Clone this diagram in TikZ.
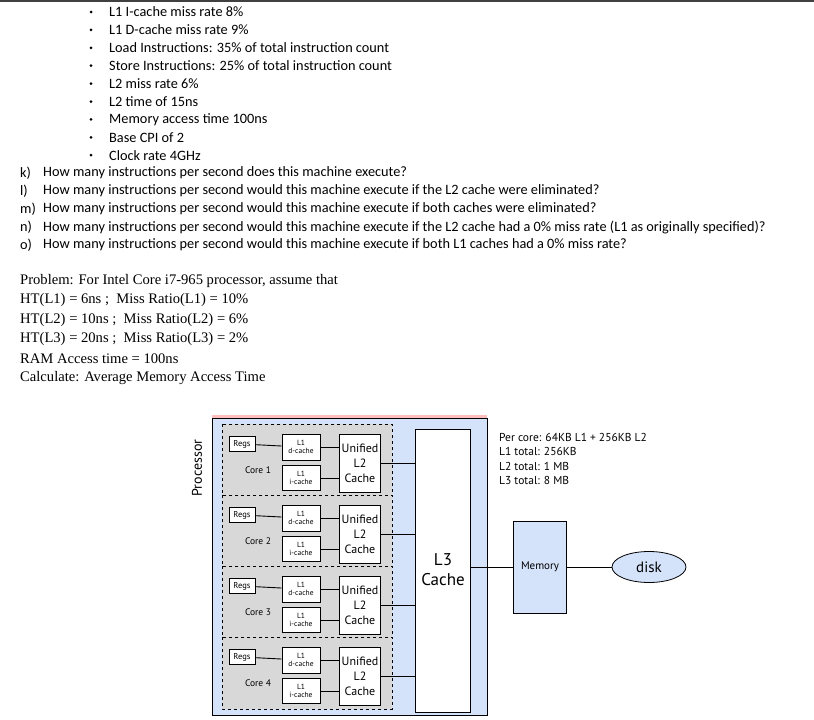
\documentclass[tikz,border=0pt]{standalone}
\usepackage{fontspec}
\setmainfont{Liberation Serif}
\newfontfamily\calfont{Carlito}
\newfontfamily\diafont{PT Sans}
\usepackage{tikz}
\usetikzlibrary{calc, shapes.geometric}
\definecolor{procblue}{RGB}{212,226,250}
\definecolor{coregray}{RGB}{216,216,216}
\tikzset{
  box/.style={draw, fill=white, line width=0.8pt, inner sep=0pt},
  wire/.style={line width=0.9pt},
  small/.style={font=\diafont\fontsize{7.5}{8}\selectfont, align=center},
  cal/.style={anchor=west, inner sep=0pt, font=\calfont\fontsize{14.3}{15}\selectfont},
}
\begin{document}
\begin{tikzpicture}[x=1pt, y=-1pt]
\useasboundingbox (0,0) rectangle (814,720);
\fill[white] (0,0) rectangle (814,720);
\fill[black!75] (0,0) rectangle (814,2);

% bullet list
\foreach \t [count=\i] in {L1 I-cache miss rate 8\%, L1 D-cache miss rate 9\%,
  Load Instructions: 35\% of total instruction count,
  Store Instructions: 25\% of total instruction count,
  L2 miss rate 6\%, L2 time of 15ns, Memory access time 100ns,
  Base CPI of 2, Clock rate 4GHz}
{
  \fill (91,{12+17.9*(\i-1)}) circle (1.5);
  \node[cal] (b\i) at (109,{12+17.9*(\i-1)}) {\t};
}
% questions
\foreach \l/\t [count=\i] in {k)/How many instructions per second does this machine execute?,
  l)/How many instructions per second would this machine execute if the L2 cache were eliminated?,
  m)/How many instructions per second would this machine execute if both caches were eliminated?,
  n)/How many instructions per second would this machine execute if the L2 cache had a 0\% miss rate (L1 as originally specified)?,
  o)/How many instructions per second would this machine execute if both L1 caches had a 0\% miss rate?}
{
  \node[cal] at (20,{173+18*(\i-1)}) {\l};
  \node[cal] (q\i) at (43,{173+18*(\i-1)}) {\t};
}
% problem
\foreach \t [count=\i] in {{Problem: For Intel Core i7-965 processor, assume that},
  {HT(L1) = 6ns ;\enspace Miss Ratio(L1) = 10\%},
  {HT(L2) = 10ns ;\enspace Miss Ratio(L2) = 6\%},
  {HT(L3) = 20ns ;\enspace Miss Ratio(L3) = 2\%},
  RAM Access time = 100ns, Calculate: Average Memory Access Time}
  \node[anchor=west, inner sep=0pt, font=\fontsize{14.6}{15}\selectfont] (p\i) at (20,{281+19.4*(\i-1)}) {\t};

% processor
\fill[red!25] (212,415) rectangle (487,419);
\draw[fill=procblue, line width=0.8pt] (212,418) rectangle (487,715);
\node[rotate=90, font=\diafont\fontsize{14}{14}\selectfont] (proc) at (197,468) {Processor};
\draw[box] (415,429) rectangle (470,712);
\node[font=\diafont\fontsize{17}{20}\selectfont, align=center] (l3) at (443,570) {L3\\Cache};

\foreach \c in {1,...,4}
{
\begin{scope}[yshift={-71*(\c-1)}]
\draw[fill=coregray, dashed, line width=0.9pt] (222,424) rectangle (392,496);
\node[box, minimum width=26, minimum height=15, font=\diafont\fontsize{8.5}{8.5}\selectfont] (regs\c) at (242,444) {Regs};
\node[font=\diafont\fontsize{9.5}{10}\selectfont] at (258,470) {Core \c};
\node[box, minimum width=38, minimum height=26, small] (dc\c) at (301,447) {L1\\d-cache};
\node[box, minimum width=38, minimum height=25, small] (ic\c) at (301,478) {L1\\i-cache};
\node[box, minimum width=41, minimum height=58, font=\diafont\fontsize{12}{15}\selectfont, align=center] (l2\c) at (360,463) {Unified\\L2\\Cache};
\draw[wire] (regs\c) -- (dc\c);
\draw[wire] (dc\c) -- (dc\c -| l2\c.west);
\draw[wire] (ic\c) -- (ic\c -| l2\c.west);
\draw[wire] (l2\c.east) -- (415,463);
\end{scope}
}

% memory and disk
\node[draw, fill=procblue, line width=0.8pt, minimum width=53, minimum height=92, font=\diafont\fontsize{11}{11}\selectfont] (mem) at (540,567) {Memory};
\node[draw, ellipse, fill=procblue, line width=0.8pt, minimum width=74, minimum height=31, font=\diafont\fontsize{15}{15}\selectfont] (disk) at (649,567) {disk};
\draw[wire] (470,567) -- (mem);
\draw[wire] (mem) -- (disk);

\foreach \t [count=\i] in {Per core: 64KB L1 + 256KB L2, L1 total: 256KB, L2 total: 1 MB, L3 total: 8 MB}
  \node[anchor=west, inner sep=0pt, font=\diafont\fontsize{11.5}{12}\selectfont] (s\i) at (499,{437+14.5*(\i-1)}) {\t};
\end{tikzpicture}
\end{document}
